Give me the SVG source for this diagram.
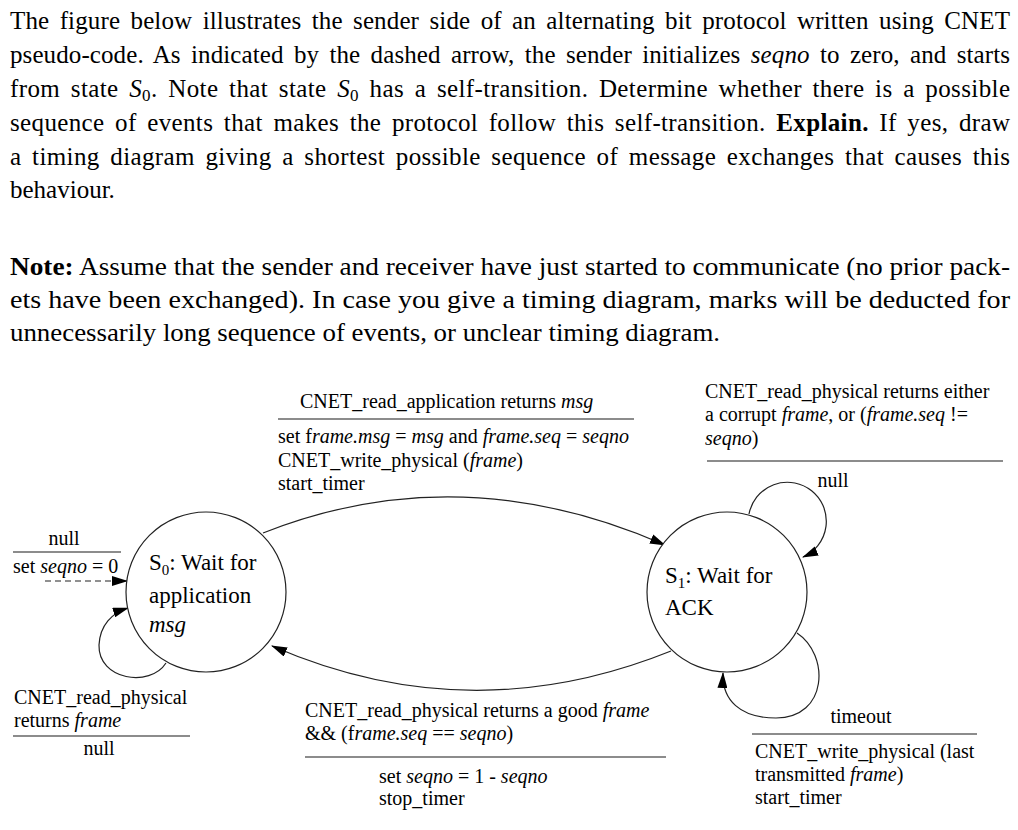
<svg xmlns="http://www.w3.org/2000/svg" width="1018" height="830" viewBox="0 0 1018 830">
<style>
text{font-family:"Liberation Serif","Times New Roman",serif;fill:#000}
.p{font-size:25px;word-spacing:4px}
.n{font-size:26px}
.l{font-size:20px}
.s{font-size:23px}
.i{font-style:italic}
.b{font-weight:bold}
.st{fill:#fff;stroke:#222;stroke-width:1.2}
.c{fill:none;stroke:#222;stroke-width:1.2;marker-end:url(#ah)}
.d{stroke-dasharray:6 4}
.sep{stroke:#666;stroke-width:1.4}
</style>
<defs>
<marker id="ah" viewBox="0 0 16 10" refX="15" refY="5" markerWidth="16" markerHeight="10" markerUnits="userSpaceOnUse" orient="auto"><path d="M0,0 L16,5 L0,10 z" fill="#000"/></marker>
</defs>
<rect width="1018" height="830" fill="#fff"/>
<g id="question">
<text class="p" x="10" y="29" textLength="1000" lengthAdjust="spacing">The figure below illustrates the sender side of an alternating bit protocol written using CNET</text>
<text class="p" x="10" y="63" textLength="1000" lengthAdjust="spacing">pseudo-code. As indicated by the dashed arrow, the sender initializes <tspan class="i">seqno</tspan> to zero, and starts</text>
<text class="p" x="10" y="97" textLength="1000" lengthAdjust="spacing">from state <tspan class="i">S</tspan><tspan font-size="17" dy="4">0</tspan><tspan dy="-4">. Note that state </tspan><tspan class="i">S</tspan><tspan font-size="17" dy="4">0</tspan><tspan dy="-4"> has a self-transition. Determine whether there is a possible</tspan></text>
<text class="p" x="10" y="131" textLength="1000" lengthAdjust="spacing">sequence of events that makes the protocol follow this self-transition. <tspan class="b">Explain.</tspan> If yes, draw</text>
<text class="p" x="10" y="165" textLength="1000" lengthAdjust="spacing">a timing diagram giving a shortest possible sequence of message exchanges that causes this</text>
<text class="p" x="10" y="198" style="word-spacing:0">behaviour.</text>
<text class="n" x="10" y="275" textLength="1000" lengthAdjust="spacingAndGlyphs"><tspan class="b">Note:</tspan> Assume that the sender and receiver have just started to communicate (no prior pack-</text>
<text class="n" x="10" y="308" textLength="1000" lengthAdjust="spacingAndGlyphs">ets have been exchanged).  In case you give a timing diagram, marks will be deducted for</text>
<text class="n" x="10" y="341" textLength="710" lengthAdjust="spacingAndGlyphs">unnecessarily long sequence of events, or unclear timing diagram.</text>
</g>
<g id="connectors">
<path class="c d" d="M45,581 L127,581"/>
<path class="c" d="M263,533 Q460,455 665,545"/>
<path class="c" d="M671,651 Q470,732 272,646"/>
<path class="c" d="M749,514 A39,39 0 1,1 803,557"/>
<path class="c" d="M166,663 C150,688 98,680 99,645 C100,625 112,613 128,608"/>
<path class="c" d="M797,633 C830,655 828,718 776,718 C740,718 722,700 723,673"/>
</g>
<g id="S0">
<circle class="st" cx="206" cy="592" r="80"/>
<text class="s" x="149" y="570">S<tspan font-size="15" dy="5">0</tspan><tspan dy="-5">: Wait for</tspan></text>
<text class="s" x="149" y="603">application</text>
<text class="s i" x="149" y="632">msg</text>
</g>
<g id="S1">
<circle class="st" cx="727" cy="592" r="80"/>
<text class="s" x="665" y="583">S<tspan font-size="15" dy="5">1</tspan><tspan dy="-5">: Wait for</tspan></text>
<text class="s" x="665" y="615">ACK</text>
</g>
<g id="label-init">
<text class="l" x="64" y="545" text-anchor="middle">null</text>
<line class="sep" x1="13" y1="552" x2="121" y2="552"/>
<text class="l" x="13" y="573">set <tspan class="i">seqno</tspan> = 0</text>
</g>
<g id="label-send">
<text class="l" x="300" y="408">CNET_read_application returns <tspan class="i">msg</tspan></text>
<line class="sep" x1="278" y1="419" x2="634" y2="419"/>
<text class="l" x="278" y="443">set f<tspan class="i">rame.msg</tspan> = <tspan class="i">msg</tspan> and <tspan class="i">frame.seq</tspan> = <tspan class="i">seqno</tspan></text>
<text class="l" x="278" y="467">CNET_write_physical (<tspan class="i">frame</tspan>)</text>
<text class="l" x="278" y="490">start_timer</text>
</g>
<g id="label-s1-bad">
<text class="l" x="705" y="398">CNET_read_physical returns either</text>
<text class="l" x="705" y="421">a corrupt <tspan class="i">frame</tspan>, or (<tspan class="i">frame.seq</tspan> !=</text>
<text class="l" x="705" y="445"><tspan class="i">seqno</tspan>)</text>
<line class="sep" x1="707" y1="461" x2="1003" y2="461"/>
<text class="l" x="833" y="487" text-anchor="middle">null</text>
</g>
<g id="label-s0-loop">
<text class="l" x="14" y="704">CNET_read_physical</text>
<text class="l" x="14" y="727">returns <tspan class="i">frame</tspan></text>
<line class="sep" x1="13" y1="736" x2="190" y2="736"/>
<text class="l" x="99" y="755" text-anchor="middle">null</text>
</g>
<g id="label-ack">
<text class="l" x="305" y="717">CNET_read_physical returns a good <tspan class="i">frame</tspan></text>
<text class="l" x="305" y="740">&amp;&amp; (f<tspan class="i">rame.seq</tspan> == <tspan class="i">seqno</tspan>)</text>
<line class="sep" x1="305" y1="757" x2="666" y2="757"/>
<text class="l" x="379" y="783">set <tspan class="i">seqno</tspan> = 1 - <tspan class="i">seqno</tspan></text>
<text class="l" x="379" y="805">stop_timer</text>
</g>
<g id="label-timeout">
<text class="l" x="861" y="723" text-anchor="middle">timeout</text>
<line class="sep" x1="752" y1="734" x2="977" y2="734"/>
<text class="l" x="755" y="758">CNET_write_physical (last</text>
<text class="l" x="755" y="781">transmitted <tspan class="i">frame</tspan>)</text>
<text class="l" x="755" y="804">start_timer</text>
</g>
</svg>
